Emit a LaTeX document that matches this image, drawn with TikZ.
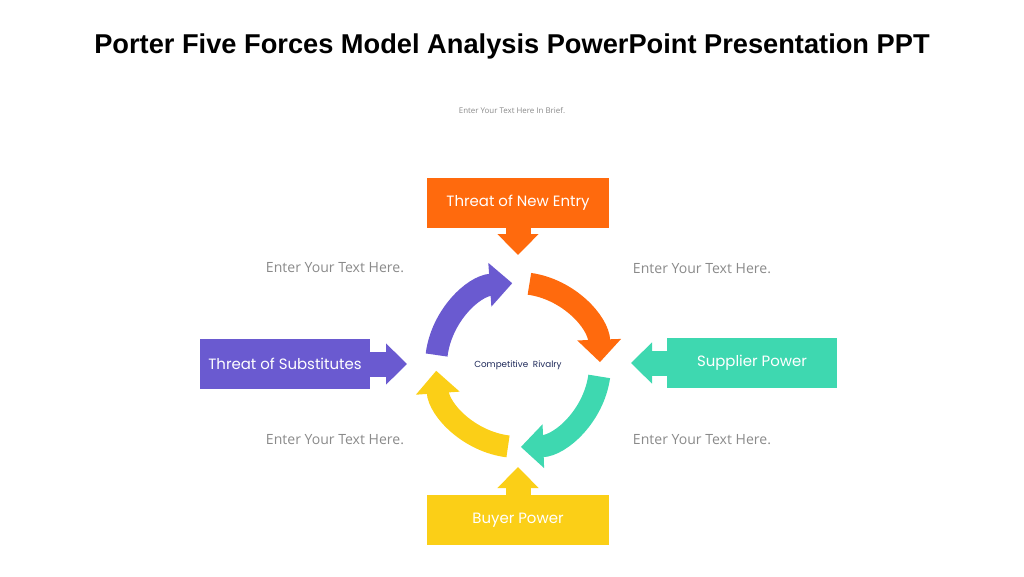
\documentclass[tikz,border=0pt]{standalone}
\usepackage{fontspec}
\setmainfont{Poppins}
\newfontfamily\titlefont{Liberation Sans}
\newfontfamily\notefont{Open Sans}
\usetikzlibrary{arrows.meta,positioning}
\definecolor{entryc}{HTML}{FF6A0D}
\definecolor{substc}{HTML}{6A5AD0}
\definecolor{supplc}{HTML}{3ED8B0}
\definecolor{buyerc}{HTML}{FBCF17}
\definecolor{notec}{HTML}{8A8A8A}
\definecolor{rivalc}{HTML}{1F2A5A}
\tikzset{
  force/.style={minimum width=3.66cm, minimum height=1cm, inner sep=0pt, text=white, font=\fontsize{8.5}{10}\selectfont},
  push/.style={line width=0.5cm, -{Triangle[width=0.8cm,length=0.42cm]}},
  cycle/.style={line width=0.44cm, -{Triangle[width=0.85cm,length=0.45cm]}},
  note/.style={text=notec, font=\notefont\fontsize{8}{10}\selectfont}
}
\begin{document}
\begin{tikzpicture}[x=0.02cm,y=-0.02cm]
  \useasboundingbox (0,0) rectangle (1024,576);

  % Title
  \node[font=\titlefont\bfseries\fontsize{15.5}{18}\selectfont] (title) at (512,46) {Porter Five Forces Model Analysis PowerPoint Presentation PPT};
  \node[text=notec, font=\notefont\fontsize{4.5}{5}\selectfont] (brief) at (512,111) {Enter Your Text Here In Brief.};

  % Forces
  \node[force, fill=entryc] (entry) at (518,203) {Threat of New Entry};
  \node[force, fill=substc, minimum width=3.4cm] (subst) at (285,364) {Threat of Substitutes};
  \node[force, fill=supplc, minimum width=3.4cm] (suppl) at (752,363) {Supplier Power};
  \node[force, fill=buyerc] (buyer) at (518,520) {Buyer Power};

  % Pointing arrows
  \coordinate (entry tip) at (518,255);
  \coordinate (subst tip) at (407,364);
  \coordinate (suppl tip) at (631,363);
  \coordinate (buyer tip) at (518,467);
  \draw[push, entryc] (entry.south) -- (entry tip);
  \draw[push, substc] (subst.east) -- (subst tip);
  \draw[push, supplc] (suppl.west) -- (suppl tip);
  \draw[push, buyerc] (buyer.north) -- (buyer tip);

  % Rivalry cycle
  \coordinate (hub) at (518,365);
  \draw[cycle, substc] ([shift={(187:82)}]hub) arc (187:266:82);
  \draw[cycle, entryc] ([shift={(278:82)}]hub) arc (278:358:82);
  \draw[cycle, supplc] ([shift={(8:82)}]hub) arc (8:88:82);
  \draw[cycle, buyerc] ([shift={(97:82)}]hub) arc (97:176:82);
  \node[text=rivalc, font=\fontsize{5}{6}\selectfont] (rival) at (hub) {Competitive\ \ Rivalry};

  % Notes
  \node[note] (note tl) at (335,268) {Enter Your Text Here.};
  \node[note] (note tr) at (702,269) {Enter Your Text Here.};
  \node[note] (note bl) at (335,440) {Enter Your Text Here.};
  \node[note] (note br) at (702,440) {Enter Your Text Here.};
\end{tikzpicture}
\end{document}
